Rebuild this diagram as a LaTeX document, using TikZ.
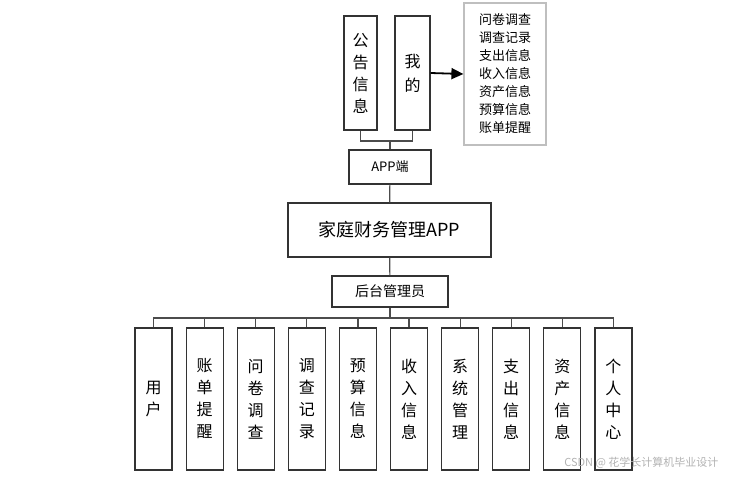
\documentclass[tikz,border=0pt]{standalone}
\usepackage{fontspec}
\setmainfont{Noto Sans CJK SC}
\usepackage{tikz}
\usetikzlibrary{arrows.meta, positioning}

\begin{document}
\begin{tikzpicture}[
		x=1pt, y=-1pt,
		box/.style={
			rectangle,
			draw=black!80,
			line width=1.2pt,
			inner sep=0pt,
			align=center
		},
		tall/.style={
			box,
			minimum width=37pt,
			minimum height=142pt,
			font=\fontsize{16}{22}\selectfont
		},
		link/.style={
			draw=black!70,
			line width=1.2pt
		},
		arrow/.style={
			line width=1.8pt,
			-{Triangle[length=12pt, width=11pt]},
		}
	]
	\useasboundingbox (0,0) rectangle (731,477);

	\node[box, minimum width=33pt, minimum height=114pt, font=\fontsize{16}{22}\selectfont] (notice) at (360.5,73) {公\\告\\信\\息};
	\node[box, minimum width=35pt, minimum height=114pt, font=\fontsize{16}{24}\selectfont] (mine) at (412.5,73) {我\\的};
	\node[box, draw=black!25, fill=white, minimum width=82pt, minimum height=142pt, font=\fontsize{13}{18}\selectfont] (menu) at (505,74) {问卷调查\\调查记录\\支出信息\\收入信息\\资产信息\\预算信息\\账单提醒};

	\node[box, minimum width=82pt, minimum height=34pt, font=\fontsize{13}{15}\selectfont] (app) at (390,167) {APP端};
	\node[box, minimum width=203pt, minimum height=54pt, font=\fontsize{18}{20}\selectfont] (sys) at (389.5,230) {家庭财务管理APP};
	\node[box, minimum width=116pt, minimum height=31pt, font=\fontsize{14}{16}\selectfont] (admin) at (390,291.5) {后台管理员};

	\draw[arrow] (mine.east) -- (menu.west);
	\draw[link] (notice.south) |- (390,141) -| (mine.south);
	\draw[link] (390,141) -- (app.north);
	\draw[link] (app) -- (sys);
	\draw[link] (sys) -- (admin);
	\coordinate (bus) at (390,318);
	\draw[link] (admin.south) -- (bus);

	\foreach \name/\txt [count=\i from 0] in {user/用\\户, bill/账\\单\\提\\醒, survey/问\\卷\\调\\查, record/调\\查\\记\\录, budget/预\\算\\信\\息, income/收\\入\\信\\息, manage/系\\统\\管\\理, expense/支\\出\\信\\息, asset/资\\产\\信\\息, center/个\\人\\中\\心} {
		\node[tall] (\name) at ({153.5+51.1*\i},399) {\txt};
		\draw[link] (\name.north) |- (bus);
	}

	\node[text=black!30, font=\fontsize{11}{12}\selectfont, anchor=east] (mark) at (722,463) {CSDN @ 花学长计算机毕业设计};
\end{tikzpicture}
\end{document}
